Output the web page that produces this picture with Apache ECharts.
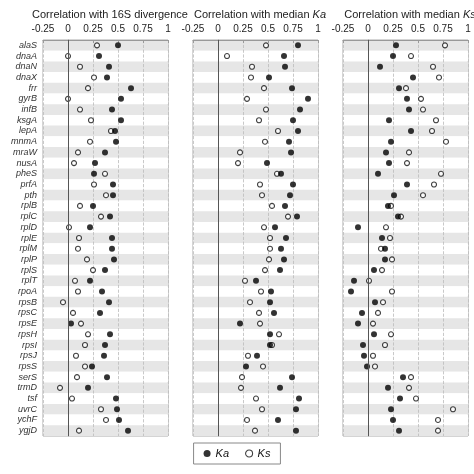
<!DOCTYPE html>
<html>
<head>
<meta charset="utf-8">
<script src="https://cdn.jsdelivr.net/npm/echarts@6/dist/echarts.min.js"></script>
<style>html,body{margin:0;padding:0;background:#fff}#chart{width:474px;height:474px}</style>
</head>
<body>
<div id="chart"></div>
<script>
// genes, top to bottom
var genes = ['alaS','dnaA','dnaN','dnaX','frr','gyrB','infB','ksgA','lepA','mnmA','mraW','nusA','pheS','prfA','pth',
  'rplB','rplC','rplD','rplE','rplM','rplP','rplS','rplT','rpoA','rpsB','rpsC','rpsE','rpsH','rpsI','rpsJ','rpsS',
  'serS','trmD','tsf','uvrC','ychF','ygjD'];
var xTicks = [-0.25, 0, 0.25, 0.5, 0.75, 1];

// correlation with 16S divergence
var div16Ka = [0.50,0.31,0.41,0.39,0.63,0.53,0.44,0.53,0.47,0.48,0.37,0.27,0.26,0.45,0.45,0.25,0.42,0.22,0.44,0.44,0.46,0.37,0.22,0.34,0.41,0.32,0.03,0.42,0.37,0.36,0.24,0.39,0.20,0.48,0.49,0.51,0.60];
var div16Ks = [0.29,0.00,0.12,0.26,0.20,0.00,0.12,0.23,0.43,0.22,0.10,0.06,0.37,0.26,0.38,0.12,0.33,0.01,0.11,0.10,0.19,0.25,0.07,0.10,-0.05,0.05,0.13,0.20,0.17,0.08,0.17,0.09,-0.08,0.04,0.33,0.38,0.11];
// correlation with median Ka
var medKaKa = [0.80,0.66,0.67,0.51,0.74,0.90,0.82,0.75,0.80,0.71,0.73,0.49,0.63,0.75,0.72,0.67,0.79,0.57,0.68,0.63,0.66,0.62,0.38,0.53,0.52,0.56,0.22,0.52,0.52,0.39,0.28,0.74,0.62,0.81,0.78,0.60,0.78];
var medKaKs = [0.48,0.09,0.34,0.33,0.46,0.29,0.48,0.41,0.60,0.47,0.22,0.20,0.59,0.42,0.44,0.54,0.70,0.46,0.52,0.52,0.51,0.47,0.27,0.43,0.32,0.41,0.42,0.61,0.54,0.30,0.45,0.24,0.23,0.38,0.44,0.29,0.37];
// correlation with median Ks
var medKsKa = [0.28,0.25,0.12,0.45,0.31,0.39,0.41,0.21,0.43,0.23,0.18,0.21,0.10,0.39,0.26,0.20,0.30,-0.10,0.14,0.17,0.17,0.06,-0.14,-0.17,0.07,-0.06,-0.10,0.06,-0.05,-0.04,-0.01,0.35,0.20,0.32,0.23,0.25,0.31];
var medKsKs = [0.77,0.43,0.65,0.71,0.38,0.53,0.55,0.68,0.64,0.78,0.41,0.39,0.73,0.66,0.55,0.23,0.33,0.18,0.22,0.13,0.24,0.14,0.01,0.24,0.15,0.10,0.05,0.23,0.17,0.05,0.07,0.43,0.41,0.48,0.85,0.70,0.70];

var panels = [
  {title: 'Correlation with 16S divergence', ka: div16Ka, ks: div16Ks, left: 43},
  {title: '{n|Correlation with median }{i|Ka}', ka: medKaKa, ks: medKaKs, left: 193},
  {title: '{n|Correlation with median }{i|Ks}', ka: medKsKa, ks: medKsKs, left: 343}
];

var grids = [], xAxes = [], yAxes = [], series = [], titles = [];
panels.forEach(function (p, i) {
  grids.push({left: p.left, width: 125, top: 40, height: 396,
    show: true, borderColor: '#aaa', borderWidth: 1, backgroundColor: 'transparent'});
  titles.push({
    text: p.title, left: p.left + 62, top: 4, textAlign: 'center',
    textStyle: {fontSize: 11, fontWeight: 'normal', color: '#222', fontFamily: 'Liberation Sans',
      rich: {n: {fontSize: 11, color: '#222'}, i: {fontSize: 11, fontStyle: 'italic', color: '#222'}}}
  });
  xAxes.push({
    gridIndex: i, type: 'value', position: 'top', min: -0.25, max: 1, interval: 0.25,
    axisLine: {show: true, lineStyle: {color: '#999'}},
    axisTick: {show: true, length: 3, inside: true, lineStyle: {color: '#999'}},
    axisLabel: {fontSize: 10, color: '#222', margin: 6, formatter: function (v) { return String(v); }},
    splitLine: {show: true, lineStyle: {color: '#bbb', type: 'dashed', width: 0.8}}
  });
  yAxes.push({
    gridIndex: i, type: 'category', data: genes, inverse: true,
    axisLine: {show: true, lineStyle: {color: '#999'}},
    axisTick: {show: false},
    axisLabel: {show: i === 0, interval: 0, fontSize: 9, fontStyle: 'italic', color: '#333', margin: 6},
    splitArea: {show: true, interval: 0, areaStyle: {color: ['#e6e6e6', '#ffffff']}}
  });
  series.push({
    name: 'Ks', type: 'scatter', xAxisIndex: i, yAxisIndex: i, symbol: 'circle', symbolSize: 5,
    itemStyle: {color: '#fff', borderColor: '#111', borderWidth: 1.1},
    data: p.ks.map(function (v, j) { return [v, genes[j]]; }),
    markLine: {silent: true, symbol: 'none', label: {show: false},
      lineStyle: {color: '#555', type: 'solid', width: 1}, data: [{xAxis: 0}]},
    z: 3
  });
  series.push({
    name: 'Ka', type: 'scatter', xAxisIndex: i, yAxisIndex: i, symbol: 'circle', symbolSize: 6,
    itemStyle: {color: '#000'},
    data: p.ka.map(function (v, j) { return [v, genes[j]]; }),
    z: 4
  });
});

var chart = echarts.init(document.getElementById('chart'));
chart.setOption({
  animation: false,
  textStyle: {fontFamily: 'Liberation Sans'},
  title: titles,
  grid: grids,
  xAxis: xAxes,
  yAxis: yAxes,
  series: series,
  legend: {
    data: [{name: 'Ka', icon: 'circle', itemStyle: {color: '#000'}},
           {name: 'Ks', icon: 'circle', itemStyle: {color: '#fff', borderColor: '#111', borderWidth: 1.1}}],
    left: 'center', top: 443, itemWidth: 7, itemHeight: 7, itemGap: 16,
    padding: [5, 10], borderColor: '#888', borderWidth: 1,
    textStyle: {fontSize: 11, fontStyle: 'italic', color: '#111'}
  }
});
</script>
</body>
</html>
